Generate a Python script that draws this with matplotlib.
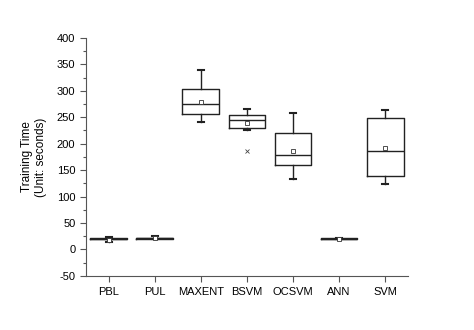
import matplotlib
matplotlib.use("Agg")
from matplotlib import pyplot as plt

plt.rcParams['font.family'] = ['Liberation Sans', 'DejaVu Sans']
plt.rcParams['axes.unicode_minus'] = False

methods = ["PBL", "PUL", "MAXENT", "BSVM", "OCSVM", "ANN", "SVM"]
whislo = [15, 19, 241, 226, 133, 19, 123]
q1 = [19.5, 20.5, 257, 229, 159, 19.5, 139]
med = [20, 21, 276, 245, 179, 20, 187]
q3 = [21, 22, 303, 254, 221, 21, 248]
whishi = [24, 25, 339, 265, 259, 22, 264]
means = [18, 22, 279, 240, 187, 20, 192]
outliers = [[], [], [], [186], [], [], []]

stats = []
for i, name in enumerate(methods):
    stats.append(dict(label=name, whislo=whislo[i], q1=q1[i], med=med[i],
                      q3=q3[i], whishi=whishi[i], mean=means[i], fliers=outliers[i]))

fig = plt.figure(figsize=(4.74, 3.30), dpi=100)
ax = fig.add_axes([0.181, 0.164, 0.68, 0.721])

ax.bxp(stats, positions=range(1, 8), widths=0.8, showmeans=True,
       boxprops=dict(color='#222222', linewidth=1.0),
       medianprops=dict(color='#222222', linewidth=1.0),
       whiskerprops=dict(color='#222222', linewidth=1.0),
       capprops=dict(color='#222222', linewidth=1.5),
       capwidths=0.12,
       meanprops=dict(marker='s', markersize=3, markerfacecolor='white',
                      markeredgecolor='#333333', markeredgewidth=0.6),
       flierprops=dict(marker='x', markersize=3, markeredgecolor='#444444',
                       markeredgewidth=0.6))

ax.set_xlim(0.5, 7.5)
ax.set_ylim(-50, 400)
ax.set_yticks(range(-50, 401, 50))
ax.set_yticks(range(-25, 400, 50), minor=True)
ax.set_xticks(range(1, 8))
ax.set_xticklabels(methods)

ax.spines['top'].set_visible(False)
ax.spines['right'].set_visible(False)
for s in ['left', 'bottom']:
    ax.spines[s].set_color('#555555')
ax.tick_params(axis='both', direction='out', length=4, width=0.8,
               color='#555555', labelsize=8)
ax.tick_params(axis='y', which='minor', length=2, width=0.8, color='#555555')
ax.tick_params(axis='x', pad=4)

ax.set_ylabel("Training Time\n(Unit: seconds)", fontsize=8.5, labelpad=7)

fig.savefig("out.png")
